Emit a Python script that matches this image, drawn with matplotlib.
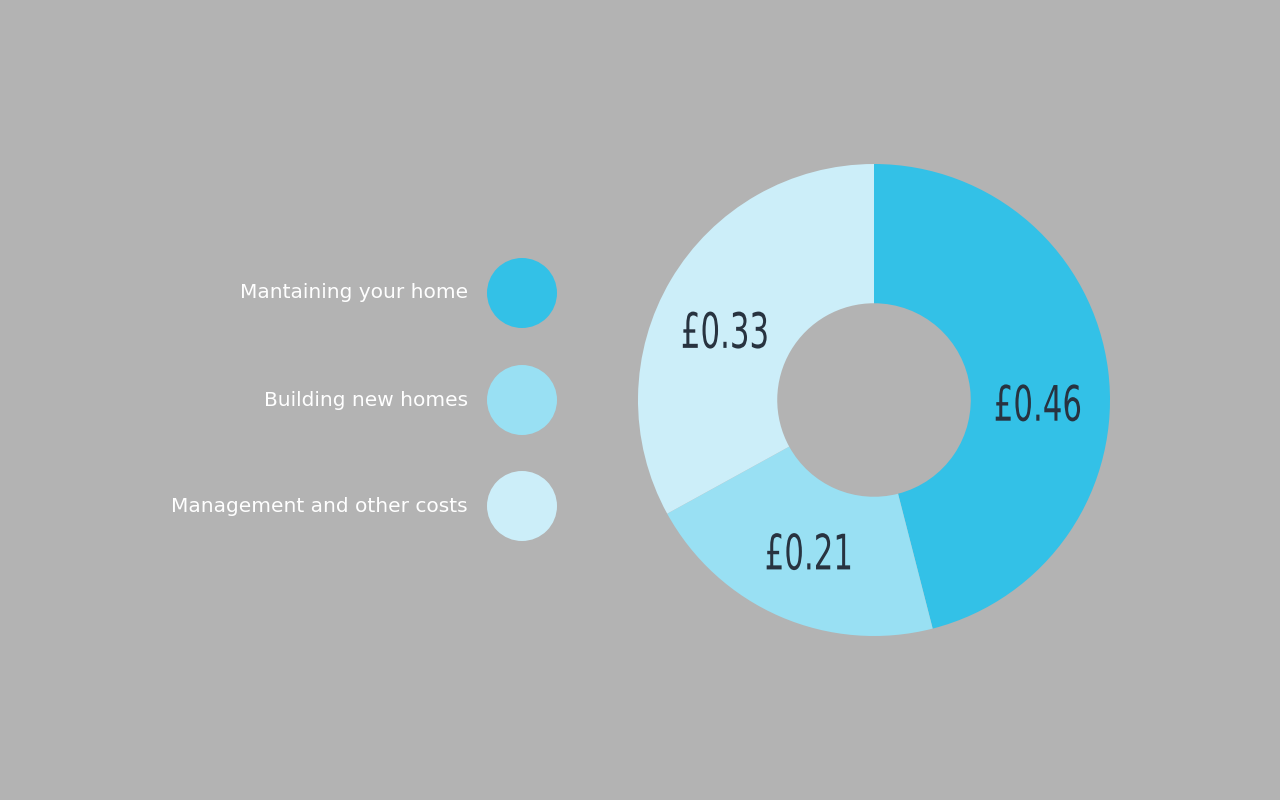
import matplotlib
matplotlib.use("Agg")
import matplotlib.pyplot as plt
from matplotlib.patches import Circle, PathPatch
from matplotlib.textpath import TextPath
from matplotlib.font_manager import FontProperties
from matplotlib.transforms import Affine2D

categories = ["Mantaining your home", "Building new homes", "Management and other costs"]
values = [0.46, 0.21, 0.33]
colors = ["#33C1E7", "#99E0F3", "#CCEEF9"]
bg = "#B3B3B3"
num_color = "#283340"

fig = plt.figure(figsize=(12.8, 8), dpi=100, facecolor=bg)

# legend axes in pixel coordinates
lax = fig.add_axes([0, 0, 1, 1])
lax.set_xlim(0, 1280)
lax.set_ylim(800, 0)
lax.axis("off")
ys = [293, 400, 506]
for cat, col, y in zip(categories, colors, ys):
    lax.add_patch(Circle((522, y), 35, color=col, ec="none"))
    lax.text(468, y, cat, ha="right", va="center", color="white",
             fontsize=14.5, family="DejaVu Sans")

# donut
ax = fig.add_axes([(874 - 236) / 1280, (400 - 236) / 800, 472 / 1280, 472 / 800])
ax.set_facecolor("none")
ax.axis("off")
total = sum(values)
wedges, texts, autotexts = ax.pie(
    values, colors=colors, startangle=90, counterclock=False,
    radius=1, wedgeprops=dict(width=0.59, edgecolor="none"),
    autopct=lambda p: "£{:.2f}".format(p * total / 100), pctdistance=0.70)
ax.set_xlim(-1, 1)
ax.set_ylim(-1, 1)
ax.set_aspect("equal")

# condensed value labels drawn as squeezed text paths
label_offsets = [(0.0, -0.10), (0.0, 0.0), (-0.03, -0.06)]
prop = FontProperties(family="DejaVu Sans")
cap_h = 37 / 236.0     # digit height in data units
squeeze = 0.63
for at, (dx, dy) in zip(autotexts, label_offsets):
    x, y = at.get_position()
    s = at.get_text()
    at.set_visible(False)
    tp = TextPath((0, 0), s, size=1, prop=prop)
    ext = TextPath((0, 0), "0", size=1, prop=prop).get_extents()
    full = tp.get_extents()
    k = cap_h / ext.height
    cx = (full.x0 + full.x1) / 2
    cy = (ext.y0 + ext.y1) / 2
    tr = Affine2D().translate(-cx, -cy).scale(k * squeeze, k).translate(x + dx, y + dy)
    ax.add_patch(PathPatch(tr.transform_path(tp), fc=num_color, ec="none"))

fig.savefig("out.png", dpi=100, facecolor=bg)
